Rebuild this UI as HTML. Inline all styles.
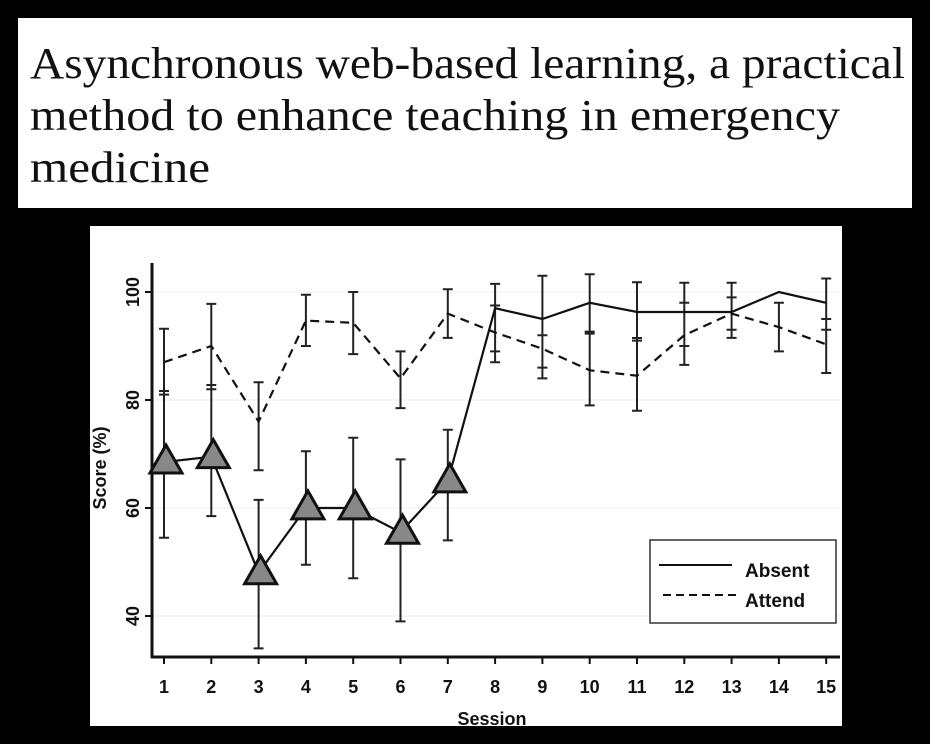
<!DOCTYPE html>
<html><head><meta charset="utf-8"><style>
html,body{margin:0;padding:0;background:#000;}
svg{display:block;}
</style></head><body>
<svg width="930" height="744" xmlns="http://www.w3.org/2000/svg">
<rect width="930" height="744" fill="#000"/>
<rect x="18" y="18" width="894" height="190" fill="#fff"/>
<g font-family="Liberation Serif, serif" font-size="44" fill="#111">
<text x="30" y="78" textLength="875" lengthAdjust="spacingAndGlyphs">Asynchronous web-based learning, a practical</text>
<text x="30" y="130" textLength="810" lengthAdjust="spacingAndGlyphs">method to enhance teaching in emergency</text>
<text x="30" y="182" textLength="180" lengthAdjust="spacingAndGlyphs">medicine</text>
</g>
<rect x="90" y="226" width="752" height="500" fill="#fff"/>
<g stroke="#eee" stroke-width="1">
<line x1="153" y1="292" x2="840" y2="292"/><line x1="153" y1="400" x2="840" y2="400"/>
<line x1="153" y1="508" x2="840" y2="508"/><line x1="153" y1="616" x2="840" y2="616"/>
</g>
<g stroke="#111" stroke-width="3" fill="none">
<line x1="152" y1="263" x2="152" y2="658"/>
<line x1="151" y1="657" x2="840" y2="657"/>
</g>
<g stroke="#111" stroke-width="2">
<line x1="145" y1="292" x2="152" y2="292"/><line x1="145" y1="400" x2="152" y2="400"/>
<line x1="145" y1="508" x2="152" y2="508"/><line x1="145" y1="616" x2="152" y2="616"/>
<path d="M164 657v7M211.3 657v7M258.6 657v7M305.9 657v7M353.2 657v7M400.5 657v7M447.8 657v7M495.1 657v7M542.4 657v7M589.7 657v7M637 657v7M684.3 657v7M731.6 657v7M778.9 657v7M826.2 657v7"/>
</g>
<g font-family="Liberation Sans, sans-serif" font-weight="bold" font-size="18" fill="#111" text-anchor="middle">
<text transform="translate(139,292) rotate(-90)">100</text>
<text transform="translate(139,400) rotate(-90)">80</text>
<text transform="translate(139,508) rotate(-90)">60</text>
<text transform="translate(139,616) rotate(-90)">40</text>
<text transform="translate(106,468) rotate(-90)" font-size="18">Score (%)</text>
<text x="492" y="725" font-size="18">Session</text>
<text x="164" y="693">1</text><text x="211.3" y="693">2</text><text x="258.6" y="693">3</text>
<text x="305.9" y="693">4</text><text x="353.2" y="693">5</text><text x="400.5" y="693">6</text>
<text x="447.8" y="693">7</text><text x="495.1" y="693">8</text><text x="542.4" y="693">9</text>
<text x="589.7" y="693">10</text><text x="637" y="693">11</text><text x="684.3" y="693">12</text>
<text x="731.6" y="693">13</text><text x="778.9" y="693">14</text><text x="826.2" y="693">15</text>
</g>
<path fill="none" stroke="#222" stroke-width="2" d="
M164 537.7V328.7 M159 537.7h10 M159 394.6h10 M159 328.7h10 M159 391h10
M211.3 516.1V303.9 M206.3 516.1h10 M206.3 389.2h10 M206.3 303.9h10 M206.3 385h10
M258.6 648.4V499.9 M258.6 470.2V382.2 M253.6 648.4h10 M253.6 499.9h10 M253.6 470.2h10 M253.6 382.2h10
M305.9 564.7V451.3 M305.9 346V294.7 M300.9 564.7h10 M300.9 451.3h10 M300.9 346h10 M300.9 294.7h10
M353.2 578.2V437.8 M353.2 354.1V292 M348.2 578.2h10 M348.2 437.8h10 M348.2 354.1h10 M348.2 292h10
M400.5 621.4V459.4 M400.5 408.1V351.4 M395.5 621.4h10 M395.5 459.4h10 M395.5 408.1h10 M395.5 351.4h10
M447.8 540.4V429.7 M447.8 337.9V289.3 M442.8 540.4h10 M442.8 429.7h10 M442.8 337.9h10 M442.8 289.3h10
M495.1 362.2V283.9 M490.1 362.2h10 M490.1 283.9h10 M490.1 351.4h10 M490.1 305.5h10
M542.4 378.4V275.8 M537.4 378.4h10 M537.4 275.8h10 M537.4 367.6h10 M537.4 335.2h10
M589.7 405.4V274.2 M584.7 405.4h10 M584.7 274.2h10 M584.7 333.6h10 M584.7 331.6h10
M637 410.8V282.3 M632 410.8h10 M632 282.3h10 M632 340.6h10 M632 338h10
M684.3 364.9V282.8 M679.3 364.9h10 M679.3 282.8h10 M679.3 346h10 M679.3 302.8h10
M731.6 337.9V282.8 M726.6 337.9h10 M726.6 282.8h10 M726.6 329.8h10 M726.6 297.4h10
M778.9 351.4V302.8 M773.9 351.4h10 M773.9 302.8h10
M826.2 373V278.5 M821.2 373h10 M821.2 278.5h10 M821.2 329.8h10 M821.2 319h10"/>
<polyline fill="none" stroke="#111" stroke-width="2.2" stroke-dasharray="9,6" points="164,362.2 211.3,346 258.6,421.6 305.9,320.6 353.2,322.8 400.5,378.4 447.8,313.6 495.1,332.5 542.4,348.7 589.7,370.3 637,375.7 684.3,335.2 731.6,313.6 778.9,327.1 826.2,344.4"/>
<polyline fill="none" stroke="#111" stroke-width="2.2" points="164,462.1 211.3,456.7 258.6,572.8 305.9,508 353.2,508 400.5,532.3 447.8,481 495.1,308.2 542.4,319 589.7,302.8 637,312 684.3,312 731.6,312 778.9,292 826.2,302.8"/>
<g fill="#888" stroke="#111" stroke-width="3">
<polygon points="150,473 182,473 166,445"/>
<polygon points="197.3,467.6 229.3,467.6 213.3,439.6"/>
<polygon points="244.6,583.7 276.6,583.7 260.6,555.7"/>
<polygon points="291.9,518.9 323.9,518.9 307.9,490.9"/>
<polygon points="339.2,518.9 371.2,518.9 355.2,490.9"/>
<polygon points="386.5,543.2 418.5,543.2 402.5,515.2"/>
<polygon points="433.8,491.9 465.8,491.9 449.8,463.9"/>
</g>
<rect x="650" y="540" width="186" height="83" fill="#fff" stroke="#333" stroke-width="1.5"/>
<line x1="659" y1="565" x2="732" y2="565" stroke="#111" stroke-width="2"/>
<line x1="663" y1="595" x2="736" y2="595" stroke="#111" stroke-width="2" stroke-dasharray="8,5"/>
<g font-family="Liberation Sans, sans-serif" font-weight="bold" font-size="19" fill="#111">
<text x="745" y="577">Absent</text><text x="745" y="607">Attend</text>
</g>
</svg>
</body></html>
